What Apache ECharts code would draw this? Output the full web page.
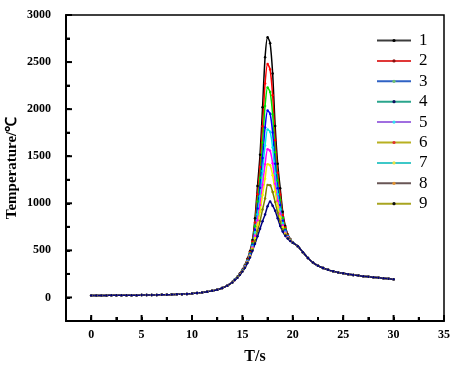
<!DOCTYPE html>
<html><head><meta charset="utf-8">
<script src="https://cdn.jsdelivr.net/npm/echarts@6/dist/echarts.min.js"></script>
<style>html,body{margin:0;padding:0;background:#fff}#c{width:474px;height:368px}</style>
</head><body><div id="c"></div>
<script>
// time samples (s)
const leadT = [0,0.5,1,1.5,2,2.5,3,3.5,4,4.5,5,5.5,6,6.5,7,7.5,8,8.5,9,9.5,10,10.5,11,11.5,12,12.5,13,13.5];
const midT  = [14,14.25,14.5,14.75,15,15.25,15.5,15.75,16,16.25,16.5,16.75,17,17.25,17.5,17.75,18,18.25,18.5,18.75,19,19.25,19.5,19.75,20];
const tailT = [20.5,21,21.5,22,22.5,23,23.5,24,24.5,25,25.5,26,26.5,27,27.5,28,28.5,29,29.5,30];
// shared temperatures (°C) before and after the peak
const leadV = [22,22,22,22,23,23,23,24,24,24,25,25,26,27,28,29,31,33,35,38,42,47,53,60,70,82,100,125];
const tailV = [545,480,420,370,337,313,293,278,266,256,247,239,232,225,219,214,209,204,199,194];
// peak region per curve
const peak1 = [165,190,220,255,295,345,410,490,610,840,1185,1515,2020,2550,2765,2700,2380,1820,1420,1160,910,760,670,620,585];
const peak2 = [164,189,218,252,292,340,403,479,591,795,1096,1385,1819,2273,2480,2421,2147,1671,1324,1094,875,743,663,617,584];
const peak3 = [163,188,216,250,289,336,396,470,574,757,1020,1272,1646,2034,2230,2181,1946,1542,1241,1036,845,728,656,614,583];
const peak4 = [163,187,215,248,286,331,390,461,559,720,946,1165,1480,1805,1985,1951,1753,1419,1161,982,816,713,650,611,582];
const peak5 = [162,187,214,246,284,328,385,454,546,689,885,1075,1342,1615,1785,1759,1593,1316,1095,936,792,701,645,609,582];
const peak6 = [162,186,213,245,282,325,379,446,532,656,821,981,1197,1414,1575,1558,1425,1208,1026,888,767,689,639,606,581];
const peak7 = [161,186,212,243,280,321,375,440,521,632,773,910,1087,1262,1415,1405,1297,1126,973,852,748,679,635,605,581];
const peak8 = [160,186,211,242,277,318,370,432,507,598,705,811,935,1052,1195,1193,1120,1013,900,801,722,666,630,602,580];
const peak9 = [160,185,210,240,275,315,365,425,495,570,650,730,810,880,970,1020,975,920,840,760,700,655,625,600,580];
const names = ['1','2','3','4','5','6','7','8','9'];
const peaks = [peak1,peak2,peak3,peak4,peak5,peak6,peak7,peak8,peak9];
const xMajor = [0,5,10,15,20,25,30,35];
const xMinor = [2.5,7.5,12.5,17.5,22.5,27.5,32.5];
const yMajor = [0,500,1000,1500,2000,2500,3000];
const yMinor = [250,750,1250,1750,2250,2750];

const colors = ['#000000','#ff0000','#00e000','#0000ff','#00e8e8','#ff00ff','#f0f000','#808000','#000080'];
const legendLine = ['#3c3c3c','#e03838','#2f62c4','#2aa58c','#a06ee0','#b8b020','#3ec8c8','#685656','#a8a420'];
const legendDot  = ['#000000','#8a1010','#6cc070','#101060','#30e0f0','#e03030','#e8e040','#e09030','#101010'];

const T = leadT.concat(midT, tailT);
const series = names.map((n,i)=>{
  const v = leadV.concat(peaks[i], tailV);
  return {
    name:n, type:'line', xAxisIndex:0, yAxisIndex:0,
    data: T.map((t,k)=>[t,v[k]]),
    smooth:0.25, symbol:'circle', symbolSize:2.5, showSymbol:true,
    lineStyle:{color:colors[i],width:1.5},
    itemStyle:{color:colors[i]},
    emphasis:{disabled:true}, animation:false
  };
});
const XMIN=-2.5, XMAX=35, YMIN=-250, YMAX=3000;
// inward tick marks drawn through the axes' own scale (custom series)
// item: [value, length, which]  which 0 = x-axis tick, 1 = y-axis tick
const tickData = []
  .concat(xMajor.map(v=>[v,6,0]), xMinor.map(v=>[v,4,0]))
  .concat(yMajor.map(v=>[v,6,1]), yMinor.map(v=>[v,4,1]));
series.push({
  name:'ticks', type:'custom', xAxisIndex:0, yAxisIndex:0, clip:false, silent:true, z:20,
  data: tickData, encode:{x:-1, y:-1},
  renderItem:(params, api)=>{
    const v = api.value(0), len = api.value(1), which = api.value(2);
    if (which === 0) {
      const p = api.coord([v, YMIN]);
      return {type:'line', shape:{x1:p[0], y1:p[1], x2:p[0], y2:p[1]-len}, style:{stroke:'#000', lineWidth:2}};
    }
    const p = api.coord([XMIN, v]);
    return {type:'line', shape:{x1:p[0], y1:p[1], x2:p[0]+len, y2:p[1]}, style:{stroke:'#000', lineWidth:2}};
  }
});
const font = '"Liberation Serif","Times New Roman",serif';
const chart = echarts.init(document.getElementById('c'),null,{renderer:'canvas'});
chart.setOption({
  animation:false,
  backgroundColor:'#fff',
  grid:{left:66,right:30,top:15,bottom:47,outerBoundsMode:'none',containLabel:false,show:true,borderColor:'#000',borderWidth:1.5,backgroundColor:'transparent'},
  legend:{
    orient:'vertical', left:376, top:32, padding:0, itemWidth:34, itemHeight:4, itemGap:3.4,
    textStyle:{fontFamily:font,fontSize:17,color:'#000',lineHeight:16,padding:[0,0,0,3]},
    data: names.map((n,i)=>({name:n, lineStyle:{color:legendLine[i],width:2}, itemStyle:{color:legendDot[i]}}))
  },
  xAxis:{
    type:'value', min:XMIN, max:XMAX, interval:2.5, position:'bottom',
    name:'T/s', nameLocation:'middle', nameGap:28, nameMoveOverlap:false,
    nameTextStyle:{fontFamily:font,fontWeight:'bold',fontSize:16,color:'#000'},
    axisLine:{show:true,onZero:false,lineStyle:{color:'#000',width:2}},
    axisTick:{show:true,inside:true,length:4,lineStyle:{color:'#000',width:2}},
    axisLabel:{show:true,margin:8,fontFamily:font,fontWeight:'bold',fontSize:12,color:'#000',
      formatter:v=> (xMajor.indexOf(v)>=0 ? String(v) : '')},
    splitLine:{show:false}
  },
  yAxis:{
    type:'value', min:YMIN, max:YMAX, interval:250, position:'left',
    name:'Temperature/\u2103', nameLocation:'middle', nameGap:46, nameMoveOverlap:false,
    nameTextStyle:{fontFamily:font,fontWeight:'bold',fontSize:15,color:'#000'},
    axisLine:{show:true,onZero:false,lineStyle:{color:'#000',width:2}},
    axisTick:{show:true,inside:true,length:4,lineStyle:{color:'#000',width:2}},
    axisLabel:{show:true,margin:15,fontFamily:font,fontWeight:'bold',fontSize:12,color:'#000',
      formatter:v=> (yMajor.indexOf(v)>=0 ? String(v) : '')},
    splitLine:{show:false}
  },
  series: series
});
</script></body></html>
